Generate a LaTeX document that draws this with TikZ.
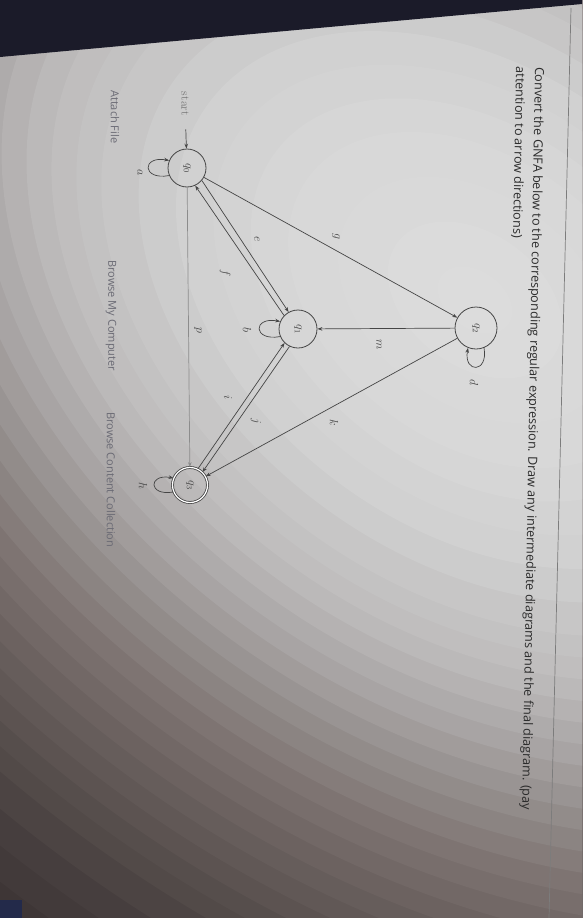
\documentclass[tikz,border=0pt]{standalone}
\usepackage{fontspec}
\setsansfont{Open Sans}
\usetikzlibrary{arrows.meta}
\definecolor{lineC}{HTML}{454545}
\definecolor{pC}{HTML}{8C8C8C}
\definecolor{headC}{HTML}{2B2B2B}
\definecolor{linkC}{HTML}{6A6A74}
\definecolor{startC}{HTML}{7A7A7A}
\definecolor{topC}{HTML}{1B1B29}
\definecolor{blueC}{HTML}{232A4A}
\definecolor{frameC}{HTML}{7C7C7C}
\begin{document}
\begin{tikzpicture}[x=1pt,y=1pt,
  state/.style={circle, draw=lineC, line width=0.8pt, minimum size=38pt, inner sep=0pt, font=\fontsize{12}{12}\selectfont, text=lineC},
  edge/.style={draw=lineC, line width=0.7pt, -{Stealth[length=5pt,width=3.6pt]}},
  lbl/.style={rotate=-90, font=\fontsize{12}{12}\selectfont, text=lineC, inner sep=0pt},
  link/.style={rotate=-90, font=\sffamily\fontsize{11}{11}\selectfont, text=linkC, anchor=west, inner sep=0pt}
]
\useasboundingbox (0,0) rectangle (582,-918);
\begin{scope}
  \clip (0,0) rectangle (582,-918);
  \foreach \r/\c in {1100/383030, 900/3A3232, 850/3A3232, 820/3E3636, 790/423A3A,
                     760/463E3E, 730/4C4443, 700/524A48, 680/564E4C, 660/5C5351,
                     640/615856, 620/665D5B, 600/6C6260, 580/726866, 560/786E6C,
                     540/7E7472, 520/857C7A, 500/8B8482, 480/928C8A, 460/999493,
                     440/A19C9B, 420/A8A4A4, 400/AEABAB, 380/B5B2B2, 360/BBB9B9,
                     340/C0BEBE, 320/C3C2C2, 300/C7C6C6, 270/CCCCCC, 240/D1D1D1,
                     210/D3D3D3, 180/D6D6D6, 150/D8D8D8, 110/D9D9D9, 70/DBDBDB,
                     30/DCDCDC} {
    \definecolor{bgtmp}{HTML}{\c}
    \fill[bgtmp, rotate around={-36.4:(475,-300)}] (475,-300) ellipse [x radius=1.38*\r, y radius=0.95*\r];
  }
  \fill[topC] (0,0) -- (582,0) -- (582,-4) -- (0,-57) -- cycle;
  \fill[blueC] (0,-900) rectangle (22,-918);
\end{scope}
\coordinate (fr1) at (571,-8);
\coordinate (fr2) at (549,-918);
\draw[frameC, line width=0.7pt] (fr1) -- (fr2);

% header
\node[rotate=-91, anchor=north west, inner sep=0pt, align=left,
      font=\sffamily\fontsize{12.6}{19}\selectfont, text=headC] (head) at (545,-67)
  {Convert the GNFA below to the corresponding regular expression. Draw any intermediate diagrams and the final diagram. (pay\\attention to arrow directions)};

% links
\node[link] (attach) at (115,-90) {Attach File};
\node[link] (browse1) at (111,-260) {Browse My Computer};
\node[link] (browse2) at (111,-412) {Browse Content Collection};

% states
\node[state] (q0) at (187,-168) {\rotatebox{-90}{$q_0$}};
\node[state] (q1) at (298,-329) {\rotatebox{-90}{$q_1$}};
\node[state, minimum size=42pt] (q2) at (476,-328) {\rotatebox{-90}{$q_2$}};
\node[state, double, double distance=1.2pt, minimum size=35pt] (q3) at (190,-485) {\rotatebox{-90}{$q_3$}};

% start
\node[lbl, text=startC] (start) at (185,-104) {start};
\draw[edge, shorten <=13pt] (start) -- (q0);

% loops
\draw[edge] (q0.203) .. controls +(190:28) and +(170:28) .. (q0.157);
\draw[edge] (q1.203) .. controls +(190:28) and +(170:28) .. (q1.157);
\draw[edge] (q3.203) .. controls +(190:26) and +(170:26) .. (q3.157);
\draw[edge] (q2.292) .. controls +(280:26) and +(260:26) .. (q2.248);

% edges
\draw[edge] (q0) -- (q2);
\draw[edge] (q0.-40) -- (q1.119);
\draw[edge] (q1.136) -- (q0.-65);
\draw[edge] (q2) -- (q1);
\draw[edge] (q2) -- (q3);
\draw[edge, draw=pC] (q0) -- (q3);
\draw[edge] (q1.244) -- (q3.46);
\draw[edge] (q3.64) -- (q1.226);

% labels
\node[lbl] (la) at (140,-173) {$a$};
\node[lbl] (lb) at (247,-330) {$b$};
\node[lbl] (lh) at (143,-486) {$h$};
\node[lbl] (ld) at (474,-383) {$d$};
\node[lbl] (lg) at (336,-237) {$g$};
\node[lbl] (le) at (257,-239) {$e$};
\node[lbl] (lf) at (225,-273) {$f$};
\node[lbl] (lm) at (379,-345) {$m$};
\node[lbl] (lk) at (334,-423) {$k$};
\node[lbl] (lp) at (198,-330) {$p$};
\node[lbl] (li) at (228,-397) {$i$};
\node[lbl] (lj) at (256,-421) {$j$};
\end{tikzpicture}
\end{document}
